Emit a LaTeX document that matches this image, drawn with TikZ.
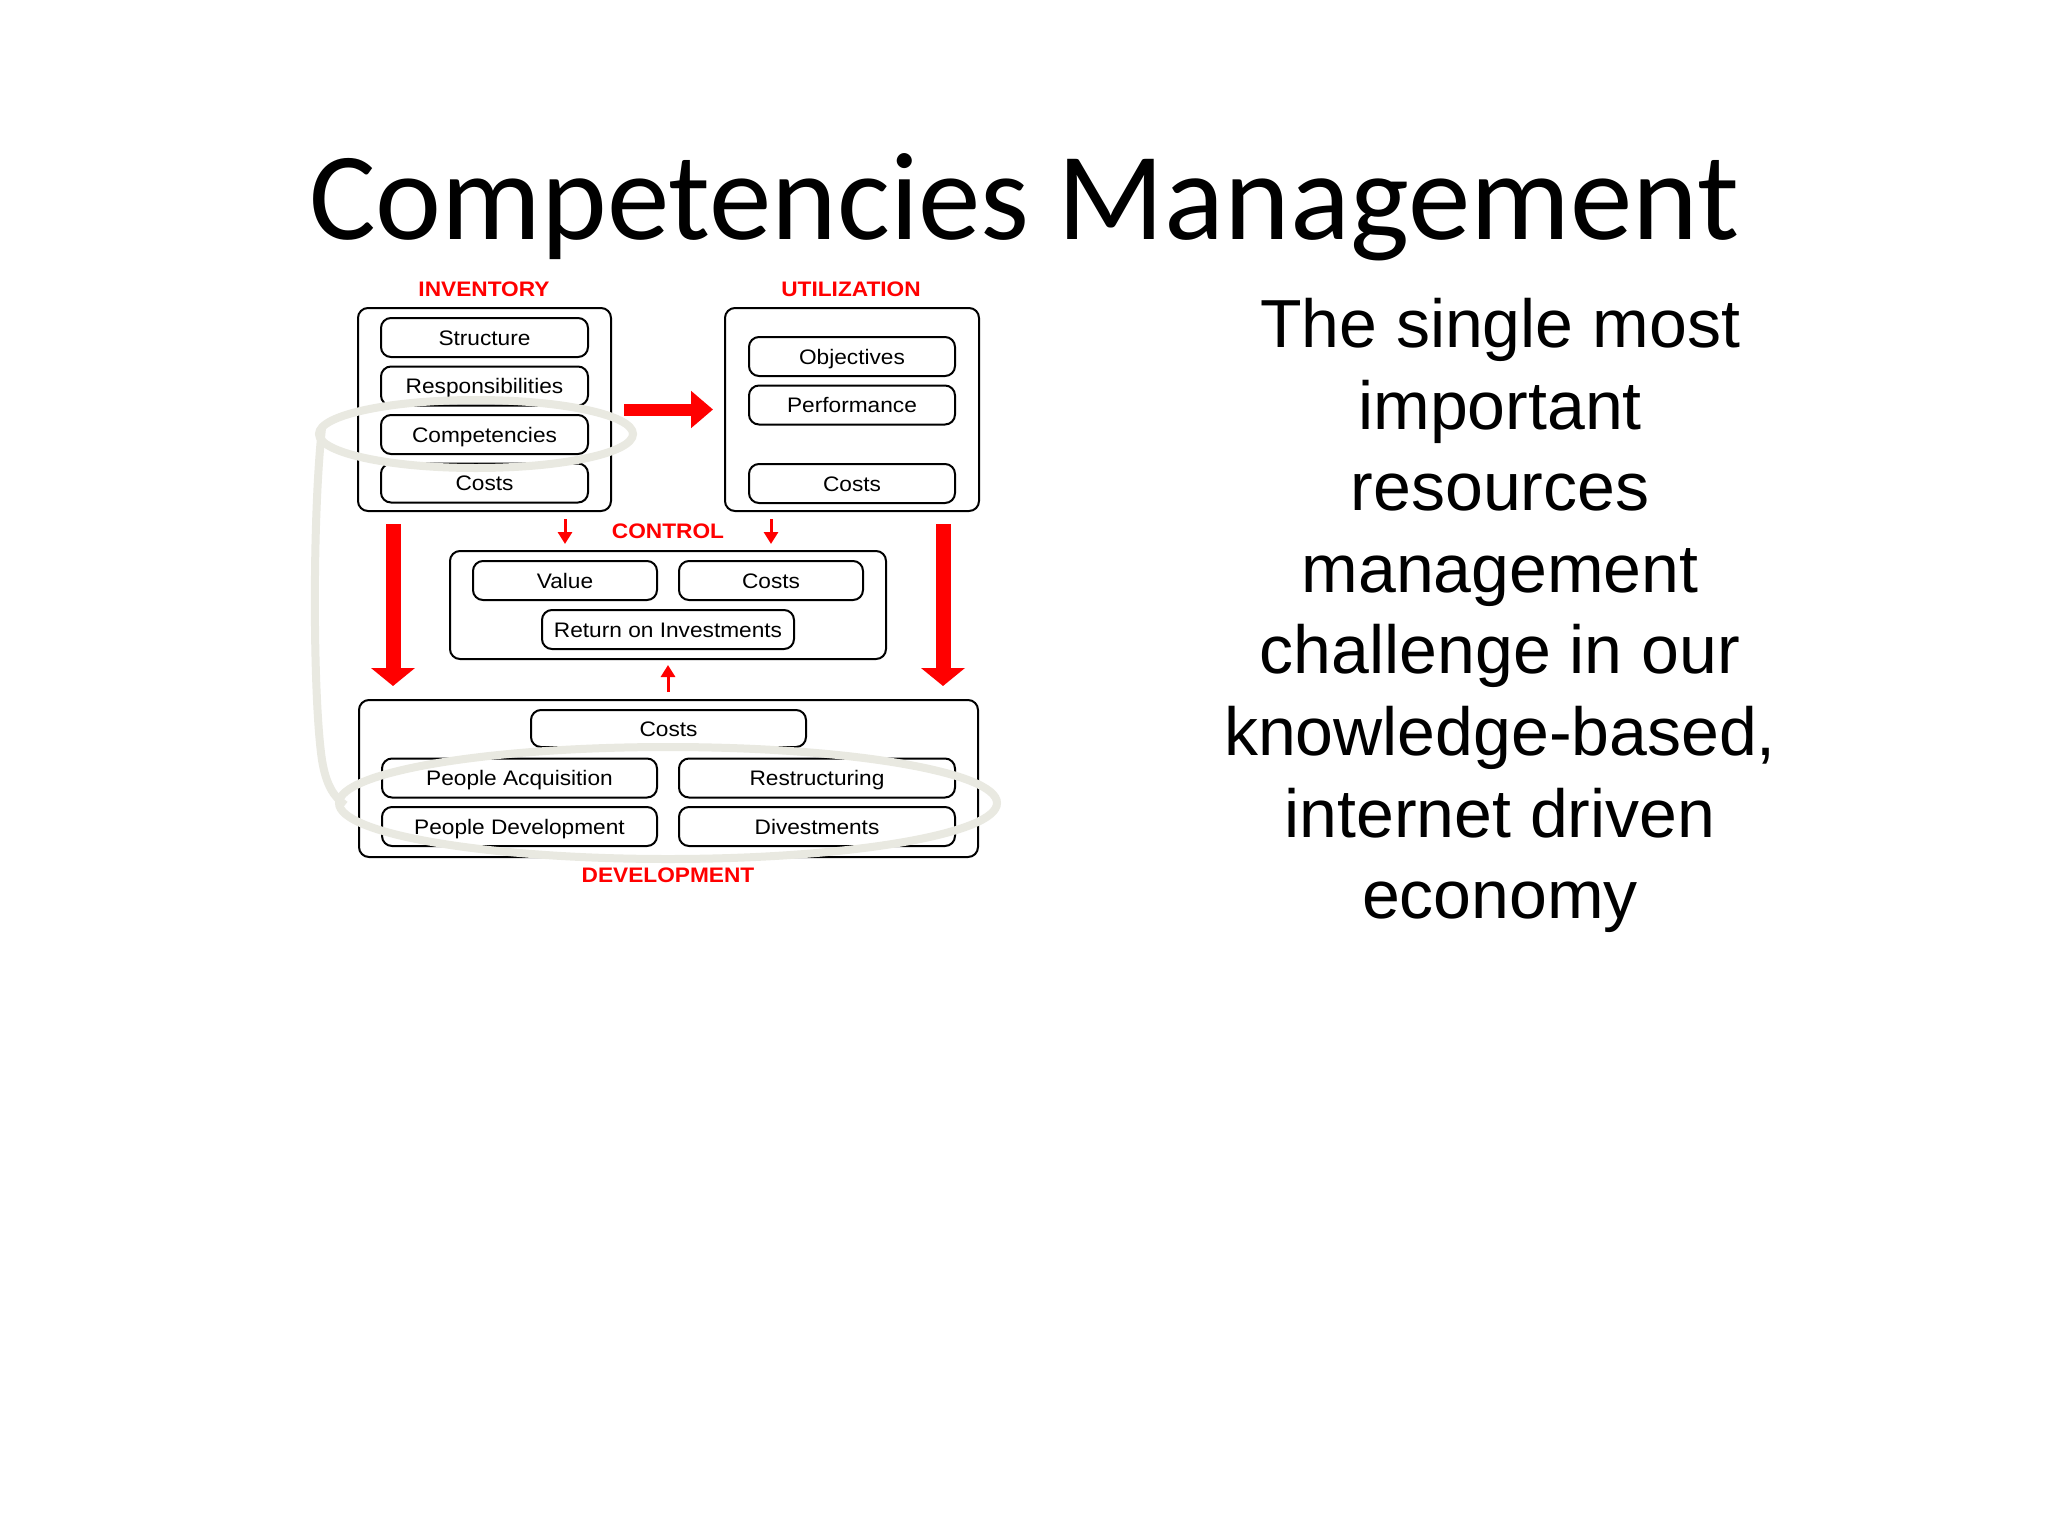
\documentclass[tikz,border=0pt]{standalone}
\usepackage{fontspec}
\setmainfont{Liberation Sans}
\newfontfamily\titlefont{Carlito}
\newfontfamily\diagfont[FakeStretch=1.08]{Liberation Sans}
\usetikzlibrary{arrows.meta,calc}
\definecolor{halogray}{RGB}{233,233,225}
\definecolor{arrred}{RGB}{255,0,0}
\begin{document}
\begin{tikzpicture}[x=0.5pt,y=-0.5pt,
  obox/.style={draw, line width=1pt, rounded corners=5pt, inner sep=0pt},
  ibox/.style={draw, line width=1pt, rounded corners=5pt, inner sep=0pt,
    minimum height=19.5pt, text height=7.5pt, text depth=0pt,
    font=\diagfont\fontsize{10.5}{12}\selectfont},
  redlab/.style={text=arrred, inner sep=0pt, text height=7.5pt, text depth=0pt,
    font=\diagfont\bfseries\fontsize{10.5}{12}\selectfont},
  bigarrow/.style={draw=arrred, line width=7.5pt, -{Triangle[width=21.5pt,length=9pt]}},
  harrow/.style={draw=arrred, line width=6pt, -{Triangle[width=18pt,length=11pt]}},
  smallarrow/.style={draw=arrred, line width=1.5pt, -{Triangle[width=7pt,length=6pt]}},
  halo/.style={draw=halogray, line width=4pt},
  rtext/.style={anchor=base, inner sep=0pt, font=\fontsize{34}{40}\selectfont}
]
\useasboundingbox[fill=white] (0,0) rectangle (2048,1536);

% title
\node[anchor=base, inner sep=0pt, font=\titlefont\fontsize{62.5}{70}\selectfont] (title) at (1024,239) {Competencies Management};

% right text
\node[rtext] (r1) at (1500,347) {The single most};
\node[rtext] (r2) at (1500,429) {important};
\node[rtext] (r3) at (1500,510) {resources};
\node[rtext] (r4) at (1500,592) {management};
\node[rtext] (r5) at (1500,673) {challenge in our};
\node[rtext] (r6) at (1500,755) {knowledge-based,};
\node[rtext] (r7) at (1500,837) {internet driven};
\node[rtext] (r8) at (1500,918) {economy};

% inventory
\node[obox, minimum width=126.5pt, minimum height=101.5pt] (inv) at (484.5,409.5) {};
\node[ibox, minimum width=103.5pt] (i1) at (484.5,337.5) {Structure};
\node[ibox, minimum width=103.5pt] (i2) at (484.5,386) {Responsibilities};
\node[ibox, minimum width=103.5pt] (i3) at (484.5,434.5) {Competencies};
\node[ibox, minimum width=103.5pt] (i4) at (484.5,483) {Costs};
\node[redlab] (invlab) at (484,289) {INVENTORY};

% utilization
\node[obox, minimum width=127pt, minimum height=101.5pt] (util) at (852,409.5) {};
\node[ibox, minimum width=103pt] (u1) at (852,356.5) {Objectives};
\node[ibox, minimum width=103pt] (u2) at (852,405) {Performance};
\node[ibox, minimum width=103pt] (u3) at (852,483.5) {Costs};
\node[redlab] (utillab) at (851,289) {UTILIZATION};

% control
\node[obox, minimum width=218pt, minimum height=54pt] (ctrl) at (668,605) {};
\node[ibox, minimum width=92pt] (cv) at (565,580.5) {Value};
\node[ibox, minimum width=92pt] (cc) at (771,580.5) {Costs};
\node[ibox, minimum width=126pt] (croi) at (668,629.5) {Return on Investments};
\node[redlab] (ctrllab) at (668,531) {CONTROL};

% development
\node[obox, minimum width=309.5pt, minimum height=78.5pt] (dev) at (668.5,778.5) {};
\node[ibox, minimum width=137.5pt, minimum height=18.5pt] (dc) at (668.5,728.5) {Costs};
\node[ibox, minimum width=137.5pt] (dpa) at (519.5,778) {People Acquisition};
\node[ibox, minimum width=138pt] (dr) at (817,778) {Restructuring};
\node[ibox, minimum width=137.5pt] (dpd) at (519.5,826.5) {People Development};
\node[ibox, minimum width=138pt] (ddv) at (817,826.5) {Divestments};
\node[redlab] (devlab) at (668,875) {DEVELOPMENT};

% arrows
\draw[harrow] ($(inv.east)+(12,0)$) -- ($(util.west)+(-11,0)$);
\draw[bigarrow] ($(inv.south)+(-91.5,12)$) -- ($(dev.north)+(-275.5,-13)$);
\draw[bigarrow] ($(util.south)+(91,12)$) -- ($(dev.north)+(274.5,-13)$);
\draw[smallarrow] ($(cv.north |- inv.south)+(0,7)$) -- ($(cv.north |- ctrl.north)+(0,-6)$);
\draw[smallarrow] ($(cc.north |- util.south)+(0,7)$) -- ($(cc.north |- ctrl.north)+(0,-6)$);
\draw[smallarrow] ($(dev.north)+(-0.5,-7)$) -- ($(ctrl.south)+(0,5)$);

% highlight loops
\draw[halo] (476,434) ellipse [x radius=78.5pt, y radius=17pt];
\draw[halo] (668,803) ellipse [x radius=164.5pt, y radius=28pt];
\draw[halo] (322,428) .. controls (312,520) and (313,700) .. (322,760) .. controls (326,785) and (334,797) .. (345,805);
\end{tikzpicture}
\end{document}
